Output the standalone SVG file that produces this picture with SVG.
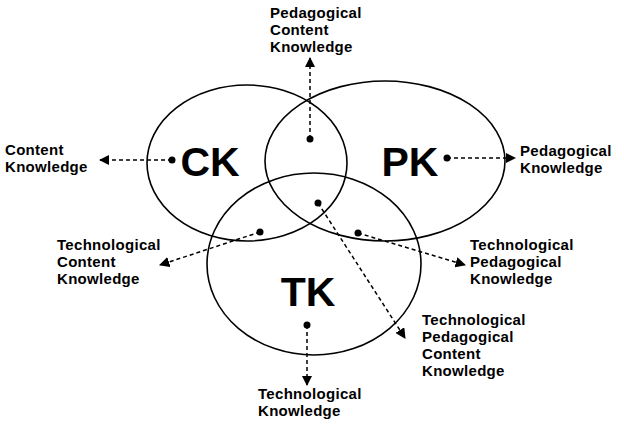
<svg xmlns="http://www.w3.org/2000/svg" width="624" height="424" viewBox="0 0 624 424">
<defs>
<marker id="ah" viewBox="0 0 10 10" refX="9" refY="5" markerWidth="7" markerHeight="7" orient="auto"><path d="M0,0L10,5L0,10z" fill="#000"/></marker>
<style>
.c{fill:none;stroke:#000;stroke-width:1.6}
.big{font:bold 41px "Liberation Sans",Arial,sans-serif;text-anchor:middle}
.lb{font:bold 15px "Liberation Sans",Arial,sans-serif;fill:#000;letter-spacing:0.3px}
.a{stroke:#000;stroke-width:1.5;stroke-dasharray:4 3;fill:none;marker-end:url(#ah)}
.d{fill:#000}
</style>
</defs>
<rect width="624" height="424" fill="#fff"/>
<g id="CK"><ellipse class="c" cx="247" cy="163" rx="100" ry="78"/><text class="big" x="210" y="176">CK</text></g>
<g id="PK"><ellipse class="c" cx="385" cy="161" rx="120" ry="80"/><text class="big" x="410" y="176">PK</text></g>
<g id="TK"><ellipse class="c" cx="314" cy="264" rx="107" ry="91"/><text class="big" x="308" y="306">TK</text></g>
<g id="connectors">
<circle class="d" cx="310" cy="139" r="3.5"/><path class="a" d="M310,139V58"/>
<circle class="d" cx="172" cy="160" r="3.5"/><path class="a" d="M172,160H100"/>
<circle class="d" cx="447" cy="158" r="3.5"/><path class="a" d="M447,158H515"/>
<circle class="d" cx="260" cy="232" r="3.5"/><path class="a" d="M260,232L160,265"/>
<circle class="d" cx="358" cy="233" r="3.5"/><path class="a" d="M358,233L465,265"/>
<circle class="d" cx="318" cy="203" r="3.5"/><path class="a" d="M318,203L405,338"/>
<circle class="d" cx="307" cy="325" r="3.5"/><path class="a" d="M307,325V385"/>
</g>
<g id="labels">
<text class="lb" x="270" y="18">Pedagogical<tspan x="270" dy="17">Content</tspan><tspan x="270" dy="17">Knowledge</tspan></text>
<text class="lb" x="5" y="155">Content<tspan x="5" dy="17">Knowledge</tspan></text>
<text class="lb" x="520" y="156">Pedagogical<tspan x="520" dy="17">Knowledge</tspan></text>
<text class="lb" x="57" y="250">Technological<tspan x="57" dy="17">Content</tspan><tspan x="57" dy="17">Knowledge</tspan></text>
<text class="lb" x="470" y="250">Technological<tspan x="470" dy="17">Pedagogical</tspan><tspan x="470" dy="17">Knowledge</tspan></text>
<text class="lb" x="422" y="325">Technological<tspan x="422" dy="17">Pedagogical</tspan><tspan x="422" dy="17">Content</tspan><tspan x="422" dy="17">Knowledge</tspan></text>
<text class="lb" x="258" y="399">Technological<tspan x="258" dy="17">Knowledge</tspan></text>
</g>
</svg>
